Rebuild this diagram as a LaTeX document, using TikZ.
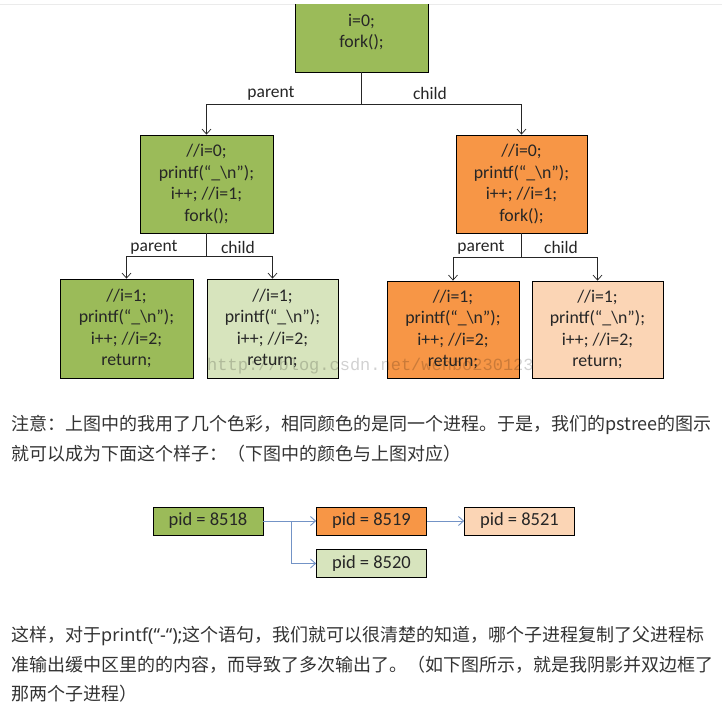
\documentclass[tikz,border=0pt]{standalone}
\usepackage{fontspec}
\setmainfont{Carlito}
\newfontfamily\cjk{Noto Sans CJK SC}
\newfontfamily\lat{Noto Sans}
\newfontfamily\wm{Liberation Mono}
\usetikzlibrary{arrows.meta}
\definecolor{g1}{HTML}{9BBB59}
\definecolor{g2}{HTML}{D7E4BD}
\definecolor{o1}{HTML}{F79646}
\definecolor{o2}{HTML}{FBD5B5}
\definecolor{ab}{HTML}{7393C6}
\definecolor{tx}{HTML}{333333}
\begin{document}
\begin{tikzpicture}[x=1pt,y=-1pt,
 box/.style={draw=black, line width=0.8pt, align=center, inner sep=0pt, font=\fontsize{17.8}{21.5}\selectfont, text=black!85},
 tbox/.style={box, minimum width=133pt, minimum height=98pt},
 pbox/.style={draw=black, line width=0.7pt, minimum width=110pt, minimum height=28pt, inner sep=0pt, font=\fontsize{18.5}{20}\selectfont, text=black!85},
 conn/.style={draw=black!85, line width=0.7pt},
 arr/.style={conn, -{Straight Barb[length=5pt,width=9pt,line width=0.7pt]}},
 barr/.style={draw=ab, line width=0.9pt, -{Straight Barb[length=5pt,width=9pt]}},
 lab/.style={font=\fontsize{17.5}{20}\selectfont, inner sep=0pt, text=black!85},
 para/.style={anchor=west, inner sep=0pt, font=\cjk\fontsize{18}{20}\selectfont, text=tx}]
\useasboundingbox (0,0) rectangle (722,711);
\fill[white] (0,0) rectangle (722,711);
\draw[black!8, line width=1pt] (0,5) -- (722,5);
\begin{scope}
\clip (0,5) rectangle (722,711);
\node[tbox, fill=g1, minimum height=80pt] (top) at (361.5,32) {i=0;\\fork();};
\end{scope}
% level 2
\node[tbox, fill=g1] (pa) at (206.5,184) {//i=0;\\printf(“\_\textbackslash n”);\\i++; //i=1;\\fork();};
\node[tbox, fill=o1, minimum width=131pt] (pb) at (521.5,184) {//i=0;\\printf(“\_\textbackslash n”);\\i++; //i=1;\\fork();};
% level 3
\node[tbox, fill=g1, minimum height=99pt] (ll) at (126.5,328.5) {//i=1;\\printf(“\_\textbackslash n”);\\i++; //i=2;\\return;};
\node[tbox, fill=g2, minimum width=131pt, minimum height=99pt] (lr) at (272.5,328.5) {//i=1;\\printf(“\_\textbackslash n”);\\i++; //i=2;\\return;};
\node[tbox, fill=o1, minimum width=132pt, minimum height=97pt] (rl) at (453,329.5) {//i=1;\\printf(“\_\textbackslash n”);\\i++; //i=2;\\return;};
\node[tbox, fill=o2, minimum width=131pt, minimum height=97pt] (rr) at (597.5,329.5) {//i=1;\\printf(“\_\textbackslash n”);\\i++; //i=2;\\return;};
% connectors
\coordinate (j0) at (361.5,104);
\draw[conn] (top.south) -- (j0);
\draw[arr] (j0) -| (pa.north);
\draw[arr] (j0) -| (pb.north);
\node[lab] (l0a) at (271,93) {parent};
\node[lab] (l0b) at (430,93) {child};
\coordinate (j1) at (206.5,256);
\draw[conn] (pa.south) -- (j1);
\draw[arr] (j1) -| (ll.north);
\draw[arr] (j1) -| (lr.north);
\node[lab] (l1a) at (154,247) {parent};
\node[lab] (l1b) at (238,247) {child};
\coordinate (j2) at (521.5,257);
\draw[conn] (pb.south) -- (j2);
\draw[arr] (j2) -| (rl.north);
\draw[arr] (j2) -| (rr.north);
\node[lab] (l2a) at (481,247) {parent};
\node[lab] (l2b) at (561,247) {child};
% watermark
\node[anchor=west, inner sep=0pt, font=\wm\fontsize{17}{17}\selectfont, text=black, text opacity=0.18] (wmk) at (207,366) {http://blog.csdn.net/wenbo230123};
% paragraph 1
\node[para] (p1) at (11,425) {注意：上图中的我用了几个色彩，相同颜色的是同一个进程。于是，我们的pstree的图示};
\node[para] (p2) at (11,454) {就可以成为下面这个样子：（下图中的颜色与上图对应）};
% pstree diagram
\node[pbox, fill=g1] (n18) at (208,521) {pid = 8518};
\node[pbox, fill=o1] (n19) at (371.5,521) {pid = 8519};
\node[pbox, fill=o2] (n21) at (519.5,521) {pid = 8521};
\node[pbox, fill=g2] (n20) at (371.5,563.5) {pid = 8520};
\coordinate (j3) at (291,521);
\draw[barr] (n18) -- (n19);
\draw[barr] (j3) |- (n20.west);
\draw[barr] (n19) -- (n21);
% paragraph 2
\node[para] (p3) at (11,636) {这样，对于{\lat printf(“-“);}这个语句，我们就可以很清楚的知道，哪个子进程复制了父进程标};
\node[para] (p4) at (11,665) {准输出缓中区里的的内容，而导致了多次输出了。（如下图所示，就是我阴影并双边框了};
\node[para] (p5) at (11,694) {那两个子进程）};
\end{tikzpicture}
\end{document}
